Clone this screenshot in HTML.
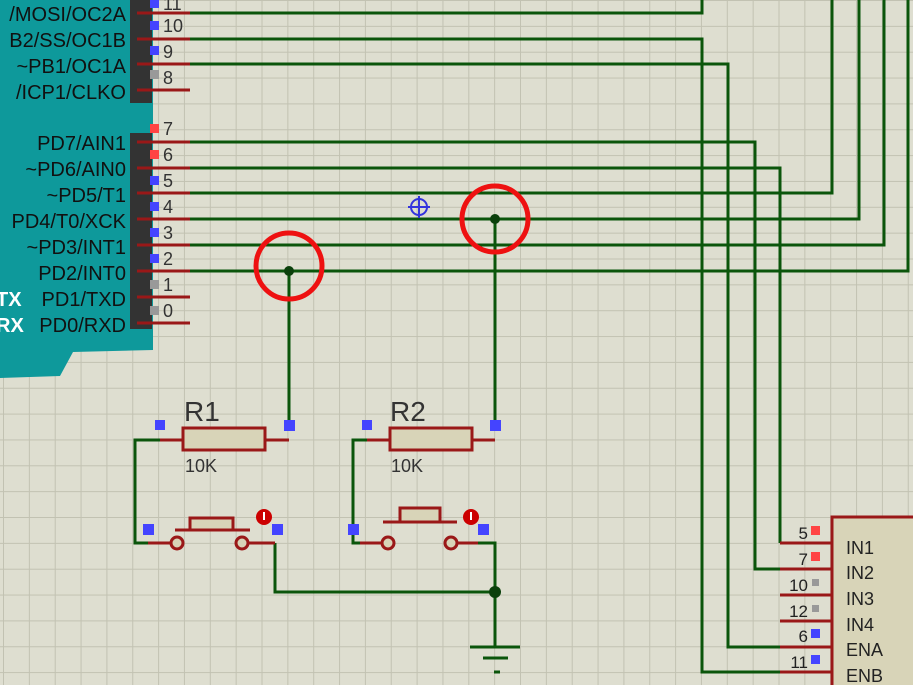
<!DOCTYPE html>
<html><head><meta charset="utf-8"><style>
html,body{margin:0;padding:0;background:#deded0;}
svg{display:block;font-family:"Liberation Sans",Arial,sans-serif;}
</style></head><body>
<svg width="913" height="685" viewBox="0 0 913 685" xmlns="http://www.w3.org/2000/svg">
<defs>
<pattern id="g" width="25.85" height="25.85" patternUnits="userSpaceOnUse" x="3" y="0">
<rect width="25.85" height="25.85" fill="#deded0"/>
<path d="M0 0H25.85M0 0V25.85" stroke="#c2c2b2" stroke-width="2" fill="none"/>
</pattern>
</defs>
<rect width="913" height="685" fill="url(#g)"/>

<!-- Arduino board -->
<polygon points="0,0 153,0 153,350 73,352 60,376 0,378" fill="#0e999b"/>
<rect x="130" y="-4" width="22" height="107" fill="#333" />
<rect x="130" y="133" width="22" height="196" fill="#333" />
<g font-size="20" fill="#111" text-anchor="end">
<text x="126" y="21">/MOSI/OC2A</text>
<text x="126" y="47">B2/SS/OC1B</text>
<text x="126" y="73">~PB1/OC1A</text>
<text x="126" y="99">/ICP1/CLKO</text>
<text x="126" y="150">PD7/AIN1</text>
<text x="126" y="176">~PD6/AIN0</text>
<text x="126" y="202">~PD5/T1</text>
<text x="126" y="228">PD4/T0/XCK</text>
<text x="126" y="254">~PD3/INT1</text>
<text x="126" y="280">PD2/INT0</text>
<text x="126" y="306">PD1/TXD</text>
<text x="126" y="332">PD0/RXD</text>
</g>
<g font-size="20" fill="#fff" font-weight="bold"><text x="-4" y="306">TX</text><text x="-4" y="332">RX</text></g>
<g font-size="18" fill="#333">
<text x="163" y="10">11</text><text x="163" y="32">10</text><text x="163" y="58">9</text><text x="163" y="84">8</text>
<text x="163" y="135">7</text><text x="163" y="161">6</text><text x="163" y="187">5</text><text x="163" y="213">4</text>
<text x="163" y="239">3</text><text x="163" y="265">2</text><text x="163" y="291">1</text><text x="163" y="317">0</text>
</g>
<g>
<rect x="150" y="-1" width="9" height="9" fill="#44f"/><rect x="150" y="21" width="9" height="9" fill="#44f"/>
<rect x="150" y="46" width="9" height="9" fill="#44f"/><rect x="150" y="70" width="9" height="9" fill="#999"/>
<rect x="150" y="124" width="9" height="9" fill="#f44"/><rect x="150" y="150" width="9" height="9" fill="#f44"/>
<rect x="150" y="176" width="9" height="9" fill="#44f"/><rect x="150" y="202" width="9" height="9" fill="#44f"/>
<rect x="150" y="228" width="9" height="9" fill="#44f"/><rect x="150" y="254" width="9" height="9" fill="#44f"/>
<rect x="150" y="280" width="9" height="9" fill="#999"/><rect x="150" y="306" width="9" height="9" fill="#999"/>
</g>

<!-- wires -->
<g stroke="#0b550b" stroke-width="3" fill="none">
<path d="M185 13H702V0"/>
<path d="M185 39H702V672H780"/>
<path d="M185 64H728V647H780"/>
<path d="M185 142H755V569H780"/>
<path d="M185 168H780V543"/>
<path d="M185 193H832V0"/>
<path d="M185 219H859V0"/>
<path d="M185 245H884V0"/>
<path d="M185 271H908V0"/>
<path d="M289 271V425"/>
<path d="M495 219V425"/>
<path d="M160 440H135V543H148"/>
<path d="M367 440H353V543H360"/>
<path d="M275 543V592H495"/>
<path d="M478 543H495V648"/>
</g>
<g stroke="#9a1818" stroke-width="3">
<path d="M137 13H190M137 39H190M137 64H190M137 90H190M137 142H190M137 168H190M137 193H190M137 219H190M137 245H190M137 271H190M137 297H190M137 323H190"/>
<path d="M780 543H832M780 569H832M780 595H832M780 621H832M780 647H832M780 672H832"/>
</g>
<g fill="#0b400b"><circle cx="289" cy="271" r="5"/><circle cx="495" cy="219" r="5"/><circle cx="495" cy="592" r="6"/></g>
<circle cx="289" cy="266" r="33" stroke="#ee1111" stroke-width="5" fill="none"/>
<circle cx="495" cy="219" r="33" stroke="#ee1111" stroke-width="5" fill="none"/>
<g stroke="#3333dd" stroke-width="2" fill="none"><circle cx="419" cy="207" r="8"/><path d="M408 207H430M419 196V218"/></g>

<!-- Resistors -->
<g stroke="#9a1818" stroke-width="3">
<path d="M160 440H183M265 440H289"/>
<rect x="183" y="428" width="82" height="22" fill="#d8d4b8"/>
<path d="M367 440H390M472 440H495"/>
<rect x="390" y="428" width="82" height="22" fill="#d8d4b8"/>
</g>
<g fill="#333"><text x="184" y="421" font-size="28">R1</text><text x="185" y="472" font-size="18">10K</text>
<text x="390" y="421" font-size="28">R2</text><text x="391" y="472" font-size="18">10K</text></g>
<g stroke="#9a1818" stroke-width="3" fill="#d8d4b8">
<path d="M148 543H171M248 543H275" fill="none"/>
<circle cx="177" cy="543" r="6"/><circle cx="242" cy="543" r="6"/>
<path d="M175 530H250" fill="none"/>
<rect x="190" y="518" width="43" height="12"/>
<path d="M360 543H382M457 543H478" fill="none"/>
<circle cx="388" cy="543" r="6"/><circle cx="451" cy="543" r="6"/>
<path d="M383 522H457" fill="none"/>
<rect x="400" y="508" width="40" height="14"/>
</g>
<g><circle cx="264" cy="517" r="8" fill="#cc0000"/><circle cx="471" cy="517" r="8" fill="#cc0000"/>
<rect x="263" y="512" width="2" height="8" fill="#fff"/><rect x="470" y="512" width="2" height="8" fill="#fff"/></g>
<g fill="#4444ff">
<rect x="155" y="420" width="10" height="10"/><rect x="284" y="420" width="11" height="11"/>
<rect x="362" y="420" width="10" height="10"/><rect x="490" y="420" width="11" height="11"/>
<rect x="143" y="524" width="11" height="11"/><rect x="272" y="524" width="11" height="11"/>
<rect x="348" y="524" width="11" height="11"/><rect x="478" y="524" width="11" height="11"/>
</g>
<g stroke="#0b550b" stroke-width="3"><path d="M470 647H520M483 658H508M494 672H500"/></g>

<!-- L298 -->
<rect x="832" y="517" width="90" height="180" fill="#d8d4b8" stroke="#9a1818" stroke-width="3"/>
<g font-size="18" fill="#222">
<text x="846" y="554">IN1</text><text x="846" y="579">IN2</text><text x="846" y="605">IN3</text>
<text x="846" y="631">IN4</text><text x="846" y="656">ENA</text><text x="846" y="682">ENB</text>
</g>
<g font-size="17" fill="#222" text-anchor="end">
<text x="808" y="539">5</text><text x="808" y="565">7</text><text x="808" y="591">10</text>
<text x="808" y="617">12</text><text x="808" y="642">6</text><text x="808" y="668">11</text>
</g>
<g><rect x="811" y="526" width="9" height="9" fill="#f44"/><rect x="811" y="552" width="9" height="9" fill="#f44"/>
<rect x="812" y="579" width="7" height="7" fill="#999"/><rect x="812" y="605" width="7" height="7" fill="#999"/>
<rect x="811" y="629" width="9" height="9" fill="#44f"/><rect x="811" y="655" width="9" height="9" fill="#44f"/></g>
</svg>
</body></html>
